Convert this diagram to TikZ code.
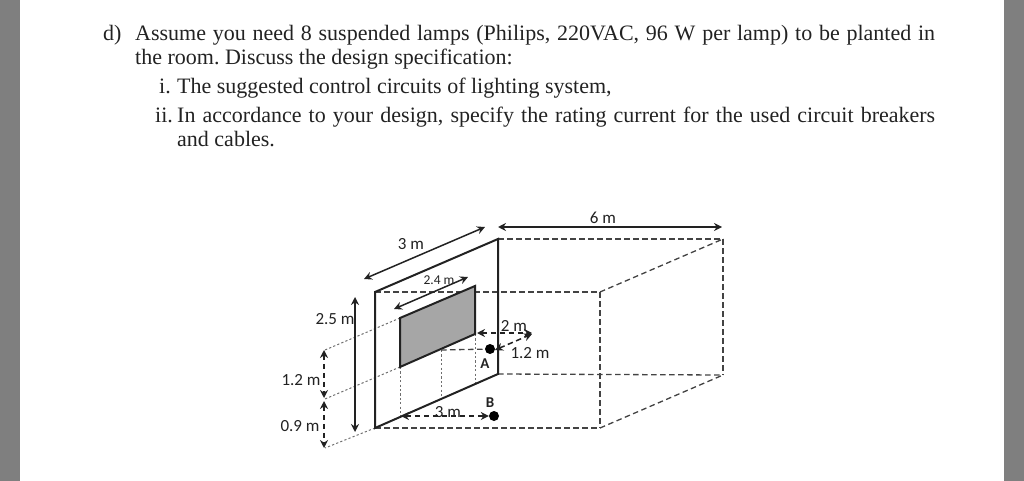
\documentclass[tikz,border=0pt]{standalone}
\usepackage{fontspec}
\setmainfont{Liberation Serif}
\setsansfont{Carlito}
\usepackage{xcolor}
\usetikzlibrary{arrows.meta, positioning}
\definecolor{sidegray}{HTML}{7F7F7F}
\definecolor{pane}{HTML}{A6A6A6}
\definecolor{ink}{HTML}{222222}
\frenchspacing
\begin{document}
\begin{tikzpicture}[x=1pt, y=-1pt,
    textline/.style={anchor=base west, inner sep=0pt, font=\fontsize{22}{24}\selectfont, text=ink},
    dims/.style={inner sep=0pt, font=\sffamily\fontsize{17}{18}\selectfont, text=ink},
    wall/.style={line width=2pt, draw=ink},
    hidden/.style={line width=1.3pt, draw=ink!85, dash pattern=on 5.5pt off 3.5pt},
    faint/.style={line width=1pt, draw=ink!65, dash pattern=on 2.2pt off 2.2pt},
    dimline/.style={line width=1.5pt, draw=ink, {Stealth[length=8pt,width=8pt]}-{Stealth[length=8pt,width=8pt]}},
    dimdash/.style={dimline, dash pattern=on 5.5pt off 3.5pt},
    lampdot/.style={circle, fill=black, inner sep=0pt, minimum size=10pt}]

    \useasboundingbox (0,0) rectangle (1024,481);
    \fill[sidegray] (0,0) rectangle (20,481);
    \fill[sidegray] (1004,0) rectangle (1024,481);

    % question text
    \node[textline] (qd) at (103,41) {d)};
    \node[textline] (q1) at (135,41) {\makebox[800pt][s]{Assume you need 8 suspended lamps (Philips, 220VAC, 96 W per lamp) to be planted in}};
    \node[textline] (q2) at (135,65) {the room. Discuss the design specification:};
    \node[textline] (qi) at (159,94) {i.};
    \node[textline] (q3) at (177,94) {The suggested control circuits of lighting system,};
    \node[textline] (qii) at (155,123) {ii.};
    \node[textline] (q4) at (177,123) {\makebox[758pt][s]{In accordance to your design, specify the rating current for the used circuit breakers}};
    \node[textline] (q5) at (177,147) {and cables.};

    % room corners
    \coordinate (a) at (375,292);
    \coordinate (b) at (498,239);
    \coordinate (c) at (498,374);
    \coordinate (d) at (375,428);
    \coordinate (e) at (600,292);
    \coordinate (f) at (723,239);
    \coordinate (g) at (723,375);
    \coordinate (h) at (600,428);

    % window
    \coordinate (p) at (400,318);
    \coordinate (q) at (475,286);
    \coordinate (r) at (475,334);
    \coordinate (s) at (400,367);
    \coordinate (m) at (441,350);
    \coordinate (pf) at (400,416);
    \coordinate (mf) at (441,398);
    \coordinate (rf) at (475,383);
    \coordinate (pl) at (325,350);
    \coordinate (sl) at (325,399);
    \coordinate (dl) at (325,448);

    \foreach \to/\from in
    {a/e,e/f,b/f,f/g,c/g,d/h,h/g,e/h} \draw[hidden] (\to)--(\from);
    \foreach \to/\from in
    {p/pl,s/sl,d/dl,s/pf,m/mf,r/rf} \draw[faint] (\to)--(\from);

    \draw[wall, fill=pane] (p)--(q)--(r)--(s)--cycle;
    \draw[wall] (a)--(b)--(c)--(d)--cycle;

    % lamp points
    \node[lampdot] (lampa) at (490,349) {};
    \node[lampdot] (lampb) at (494,416) {};
    \node[font=\sffamily\bfseries\fontsize{15}{16}\selectfont, inner sep=0pt, text=ink] (la) at (485,364) {A};
    \node[font=\sffamily\bfseries\fontsize{15}{16}\selectfont, inner sep=0pt, text=ink] (lb) at (490,403) {B};
    \draw[hidden] (m)--(lampa);

    % dimensions
    \coordinate (w1) at (364,279);
    \coordinate (w2) at (485,227);
    \coordinate (u1) at (394,309);
    \coordinate (u2) at (468,277);
    \coordinate (l1) at (498,227);
    \coordinate (l2) at (722,227);
    \coordinate (h1) at (355,297);
    \coordinate (h2) at (355,432);
    \coordinate (v1) at (324,350);
    \coordinate (v2) at (324,398);
    \coordinate (v3) at (324,401);
    \coordinate (v4) at (324,448);
    \coordinate (t1) at (477,333);
    \coordinate (t2) at (532,333);
    \coordinate (k1) at (495,350);
    \coordinate (k2) at (532,334);
    \coordinate (n1) at (401,416);
    \coordinate (n2) at (lampb.west);
    \foreach \to/\from in
    {w1/w2,u1/u2,l1/l2,h1/h2} \draw[dimline] (\to)--(\from);
    \foreach \to/\from in
    {v1/v2,v3/v4,t1/t2,k1/k2,n1/n2} \draw[dimdash] (\to)--(\from);

    \node[dims] (lw) at (411,244) {3 m};
    \node[dims, font=\sffamily\fontsize{13.5}{14}\selectfont] (lu) at (439,280) {2.4 m};
    \node[dims] (ll) at (603,218) {6 m};
    \node[dims] (lh) at (335,319) {2.5 m};
    \node[dims] (lv) at (301,380) {1.2 m};
    \node[dims] (lo) at (300,426) {0.9 m};
    \node[dims] (lt) at (514,326) {2 m};
    \node[dims] (lk) at (530,353) {1.2 m};
    \node[dims] (ln) at (448,412) {3 m};
\end{tikzpicture}
\end{document}
